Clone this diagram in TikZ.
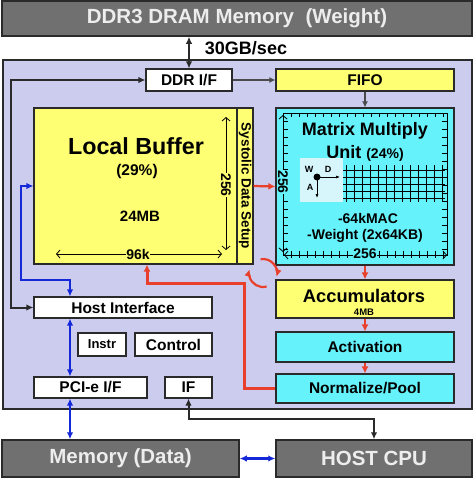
\documentclass[tikz,border=0pt]{standalone}
\usepackage{fontspec}
\setmainfont{Liberation Sans}
\usetikzlibrary{arrows.meta}
\definecolor{boxgray}{HTML}{707070}
\definecolor{lav}{HTML}{CCCCEE}
\definecolor{ylw}{HTML}{FFFF73}
\definecolor{cyn}{HTML}{66F2FA}
\definecolor{pale}{HTML}{D6F6FC}
\definecolor{rd}{HTML}{E8402A}
\definecolor{bl}{HTML}{1428D8}
\definecolor{edge}{HTML}{2A2A2A}

\begin{document}
\begin{tikzpicture}[x=1pt,y=-1pt,
	blk/.style={draw=edge, line width=1.2pt, inner sep=0pt, font=\bfseries\fontsize{15.5}{17}\selectfont},
	wbox/.style={blk, fill=white},
	ybox/.style={blk, fill=ylw},
	cbox/.style={blk, fill=cyn},
	gbox/.style={blk, fill=boxgray, text=white!93!black, line width=1.5pt, font=\bfseries\fontsize{20.5}{23}\selectfont},
	txt/.style={inner sep=0pt, font=\bfseries\fontsize{#1}{#1}\selectfont},
	dim/.style={{Straight Barb[length=3.5pt,width=8pt]}-{Straight Barb[length=3.5pt,width=8pt]}, line width=0.8pt},
	wire/.style={edge, line width=2pt, {Latex[length=7pt,width=6.5pt]}-{Latex[length=7pt,width=6.5pt]}},
	bus/.style={bl, line width=2.2pt, {Latex[length=7pt,width=6.5pt]}-{Latex[length=7pt,width=6.5pt]}},
	flow/.style={rd, line width=2.2pt, -{Latex[length=7pt,width=7pt]}}]
	\useasboundingbox (0,0) rectangle (474,479);

	% outside parts
	\node[gbox, minimum width=470pt, minimum height=35pt] (dram) at (237,18.5) {DDR3 DRAM Memory\ \ (Weight)};
	\node[gbox, minimum width=237pt, minimum height=37pt] (memdata) at (120.5,458.5) {Memory (Data)};
	\node[gbox, minimum width=196pt, minimum height=37pt] (hostcpu) at (374,458.5) {HOST CPU};
	\node[blk, fill=lav, line width=1.5pt, minimum width=469pt, minimum height=349pt] (chip) at (237.5,234.5) {};
	\node[txt=18] (rate) at (246,48.5) {30GB/sec};

	% blocks on the chip
	\node[wbox, minimum width=86pt, minimum height=22pt] (ddrif) at (189,80) {DDR I/F};
	\node[ybox, minimum width=178pt, minimum height=22pt] (fifo) at (365,80) {FIFO};
	\node[ybox, minimum width=203pt, minimum height=156pt] (lbuf) at (135.5,186) {};
	\node[ybox, minimum width=16pt, minimum height=156pt] (sds) at (245,186) {};
	\node[txt=13.5, rotate=-90] (sdslbl) at (245,186) {Systolic Data Setup};
	\node[cbox, minimum width=178pt, minimum height=157pt] (mmu) at (365,186.5) {};
	\node[ybox, minimum width=178pt, minimum height=38pt] (accum) at (365,299) {};
	\node[cbox, minimum width=178pt, minimum height=30pt] (activ) at (365,347) {Activation};
	\node[cbox, minimum width=178pt, minimum height=29pt] (norm) at (365,388.5) {Normalize/Pool};
	\node[wbox, minimum width=178pt, minimum height=21pt] (hostif) at (123,307.5) {Host Interface};
	\node[wbox, minimum width=48pt, minimum height=23pt, font=\bfseries\fontsize{13}{15}\selectfont] (instr) at (102,344.5) {Instr};
	\node[wbox, minimum width=77pt, minimum height=23pt] (control) at (173.5,344.5) {Control};
	\node[wbox, minimum width=113pt, minimum height=21pt] (pcie) at (90.5,387.5) {PCI-e I/F};
	\node[wbox, minimum width=47pt, minimum height=21pt] (ifbox) at (188.5,387.5) {IF};

	% local buffer
	\node[txt=23.3] (lbtitle) at (136,146) {Local Buffer};
	\node[txt=15.5] (lbpct) at (137,171) {(29\%)};
	\node[txt=15] (lbsize) at (140,216) {24MB};
	\draw[dim] (56,254) -- (222,254);
	\draw[dim] (226,117) -- (226,250);
	\node[txt=14, fill=ylw, inner sep=0.5pt] (lbw) at (138,254) {96k};
	\node[txt=14, fill=ylw, inner sep=0.5pt, rotate=-90] (lbh) at (226,185) {256};

	% matrix unit
	\draw[line width=0.8pt] (283,113) rectangle (447,255);
	\foreach \t in {291,299,...,443} {
		\draw[line width=0.6pt] (\t,113) -- ++(0,4);
		\draw[line width=0.6pt] (\t,251) -- ++(0,7);
	}
	\foreach \t in {121,129,...,249} {
		\draw[line width=0.6pt] (283,\t) -- ++(5,0);
		\draw[line width=0.6pt] (447,\t) -- ++(-5,0);
	}
	\draw[dim] (283,115) -- (283,252);
	\draw[dim] (284,255) -- (447,255);
	\node[txt=14, fill=cyn, inner sep=0.5pt, rotate=-90] (mmuh) at (283,182) {256};
	\node[txt=14, fill=cyn, inner sep=0.5pt] (mmuw) at (365,254) {256};
	\node[txt=18] (mmutitle) at (365,131) {Matrix Multiply};
	\node[txt=18] (mmuunit) at (365,153) {Unit {\fontsize{14}{14}\selectfont(24\%)}};
	\node[txt=14] (mac) at (368,218) {-64kMAC};
	\node[txt=14] (wgt) at (365,236) {-Weight (2x64KB)};
	\fill[pale] (300,158) rectangle (343,202);
	\foreach \g in {346,354,...,442} \draw[line width=0.8pt] (\g,165) -- (\g,202);
	\foreach \h in {170,177,...,198} \draw[line width=0.8pt] (343,\h) -- (445,\h);
	\fill (317,177) circle (3.5pt);
	\draw[-{Latex[length=4pt,width=3pt]}, line width=0.7pt] (317,177) -- (340,177);
	\draw[-{Latex[length=4pt,width=3pt]}, line width=0.7pt] (317,177) -- (317,198);
	\node[txt=9] (pw) at (309,169) {W};
	\node[txt=9] (pd) at (328,169) {D};
	\node[txt=9] (pa) at (310,187) {A};

	% accumulators
	\node[txt=18.3] (acclbl) at (364,296) {Accumulators};
	\node[txt=9.5] (accsize) at (364,312.5) {4MB};

	% connectors
	\coordinate (lft) at (11,80);
	\coordinate (bl1) at (21,280);
	\coordinate (bx) at (70,0);
	\coordinate (rbend) at (244,283);
	\coordinate (cpujoin) at (374,419);
	\coordinate (swap) at (263,273);
	\draw[wire] (ddrif.north) -- (ddrif.north |- dram.south);
	\draw[edge!85, line width=1.5pt, -{Latex[length=6pt,width=6pt]}] (ddrif) -- (fifo);
	\draw[edge!85, line width=1.5pt, -{Latex[length=6pt,width=6pt]}] (fifo) -- (mmu);
	\draw[wire] (ddrif.west) -- (lft) |- (hostif.west);
	\draw[bus] (lbuf.west) -| (bl1) -| (hostif.north -| bx);
	\draw[bus] (hostif.south -| bx) -- (pcie.north -| bx);
	\draw[bus] (pcie.south -| bx) -- (memdata.north -| bx);
	\draw[bus] (memdata.east) -- (hostcpu.west);
	\draw[wire] (ifbox.south) |- (cpujoin) -- (hostcpu.north);
	\draw[flow] (sds.east) -- (mmu.west);
	\draw[flow] (mmu.south) -- (accum.north);
	\draw[flow] (accum.south) -- (activ.north);
	\draw[flow] (activ.south) -- (norm.north);
	\draw[flow, line width=3pt] (norm.west) -| (rbend) -| ([xshift=11.5pt]lbuf.south);
	\draw[flow] (swap) ++(100:14pt) arc[start angle=100, end angle=-15, radius=14pt];
	\draw[flow] (swap) ++(-75:14pt) arc[start angle=-75, end angle=-195, radius=14pt];
\end{tikzpicture}
\end{document}
